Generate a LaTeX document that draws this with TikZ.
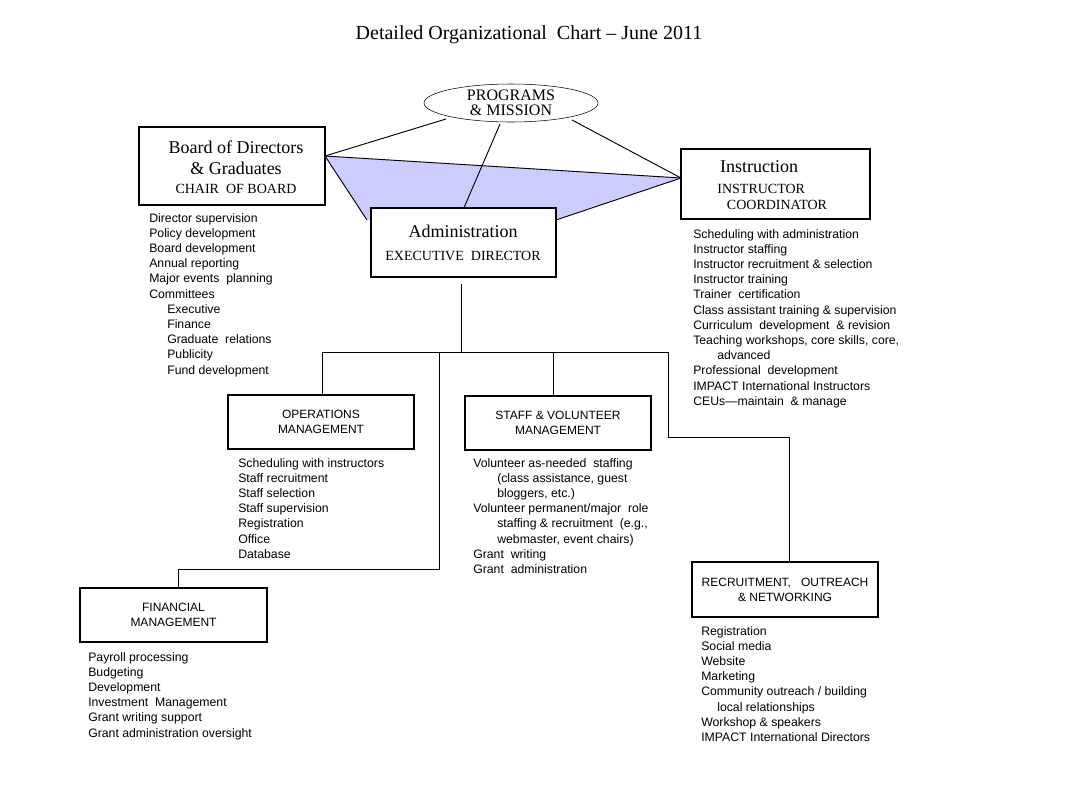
\documentclass[tikz,border=0pt]{standalone}
\usepackage{fontspec}
\setmainfont{Liberation Serif}
\setsansfont{Liberation Sans}
\usetikzlibrary{shapes.geometric}
\begin{document}
\begin{tikzpicture}[x=0.75pt,y=-0.75pt,
  box/.style={draw,fill=white,inner sep=0,line width=0.8pt},
  lst/.style={anchor=north west,inner sep=0,align=left,font=\sffamily\fontsize{9.2}{11.4}\selectfont},
  btxt/.style={font=\sffamily\fontsize{9}{11.4}\selectfont,align=center},
  ln/.style={line width=0.7pt}]
\useasboundingbox (0,0) rectangle (1066,800);
\node (title) at (529,35) {\fontsize{15}{18}\selectfont Detailed Organizational\ \ Chart -- June 2011};
% shaded triangle
\coordinate (bR) at (325,156);
\coordinate (iL) at (681,178);
\fill[blue!20!white] (bR) -- (iL) -- (556,220) -- (367,220) -- cycle;
\node[draw,ellipse,minimum width=174*0.75pt,minimum height=38*0.75pt,inner sep=0,align=center,font=\fontsize{12}{12}\selectfont] (prog) at (511,103) {PROGRAMS\\[-1pt]\& MISSION};
\draw[ln] (bR) -- (446,119);
\draw[ln] (572,120) -- (iL);
\draw[ln] (bR) -- (iL);
\draw[ln] (bR) -- (367,220);
\draw[ln] (iL) -- (556,220);
\draw[ln] (500,124) -- (463,210);
\node[box,minimum width=186*0.75pt,minimum height=78*0.75pt] (board) at (232,166) {};
\node[font=\fontsize{13.5}{15.5}\selectfont,align=center] at (236,158) {Board of Directors\\\& Graduates};
\node[font=\fontsize{10.5}{12}\selectfont] at (236,189) {CHAIR\ \ OF BOARD};
\node[box,minimum width=185*0.75pt,minimum height=69*0.75pt] (admin) at (463.5,242.5) {};
\node[font=\fontsize{13.5}{15}\selectfont] at (463,231) {Administration};
\node[font=\fontsize{10.5}{12}\selectfont] at (463,256) {EXECUTIVE\ \ DIRECTOR};
\node[box,minimum width=189*0.75pt,minimum height=70*0.75pt] (instr) at (775.5,184) {};
\node[font=\fontsize{13.5}{15}\selectfont] at (759,167) {Instruction};
\node[font=\fontsize{10.5}{12}\selectfont,align=center] at (770,197) {INSTRUCTOR\ \ \ \ \ \ \\ \ \ \ \ COORDINATOR};
% tree lines
\coordinate (a1) at (461,284);
\coordinate (a2) at (461,352);
\draw[ln] (a1) -- (a2);
\draw[ln] (322,352) -- (668,352);
\node[box,minimum width=186*0.75pt,minimum height=54*0.75pt,btxt] (ops) at (321,422) {OPERATIONS\\MANAGEMENT};
\node[box,minimum width=186*0.75pt,minimum height=54*0.75pt,btxt] (staff) at (558,423) {STAFF \& VOLUNTEER\\MANAGEMENT};
\node[box,minimum width=187*0.75pt,minimum height=54*0.75pt,btxt] (fin) at (173.5,615) {FINANCIAL\\MANAGEMENT};
\node[box,minimum width=186*0.75pt,minimum height=55*0.75pt,btxt] (rec) at (785,589.5) {RECRUITMENT,\ \ \ OUTREACH\\\& NETWORKING};
\draw[ln] (322,352) -- (ops.north -| 322,0);
\draw[ln] (553,352) -- (staff.north -| 553,0);
\draw[ln] (439,352) -- (439,569) -- (178,569) -- (fin.north -| 178,0);
\draw[ln] (668,352) -- (668,437) -- (789,437) -- (rec.north -| 789,0);
% lists
\node[lst] (l1) at (149,213) {Director supervision\\Policy development\\Board development\\Annual reporting\\Major events\ \ planning\\Committees\\
\hspace*{13.5pt}Executive\\\hspace*{13.5pt}Finance\\\hspace*{13.5pt}Graduate\ \ relations\\\hspace*{13.5pt}Publicity\\\hspace*{13.5pt}Fund development};
\node[lst] (l2) at (693,229) {Scheduling with administration\\Instructor staffing\\Instructor recruitment \& selection\\Instructor training\\Trainer\ \ certification\\Class assistant training \& supervision\\Curriculum\ \ development\ \ \& revision\\Teaching workshops, core skills, core,\\\hspace*{18pt}advanced\\Professional\ \ development\\IMPACT International Instructors\\CEUs---maintain\ \ \& manage};
\node[lst] (l3) at (238,458) {Scheduling with instructors\\Staff recruitment\\Staff selection\\Staff supervision\\Registration\\Office\\Database};
\node[lst] (l4) at (473,458) {Volunteer as-needed\ \ staffing\\\hspace*{18pt}(class assistance, guest\\\hspace*{18pt}bloggers, etc.)\\Volunteer permanent/major\ \ role\\\hspace*{18pt}staffing \& recruitment\ \ (e.g.,\\\hspace*{18pt}webmaster, event chairs)\\Grant\ \ writing\\Grant\ \ administration};
\node[lst] (l5) at (88,652) {Payroll processing\\Budgeting\\Development\\Investment\ \ Management\\Grant writing support\\Grant administration oversight};
\node[lst] (l6) at (701,626) {Registration\\Social media\\Website\\Marketing\\Community outreach / building\\\hspace*{12pt}local relationships\\Workshop \& speakers\\IMPACT International Directors};
\end{tikzpicture}
\end{document}
